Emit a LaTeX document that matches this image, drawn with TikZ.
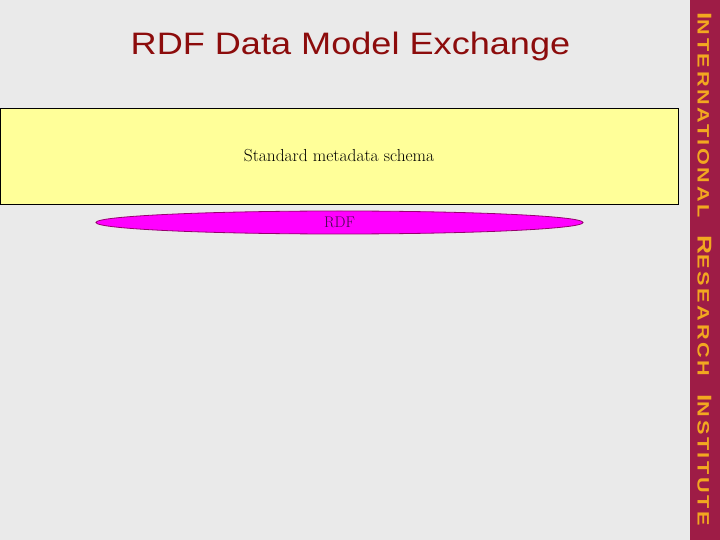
\documentclass[tikz,border=0pt]{standalone}
\usepackage{fontspec}
\usetikzlibrary{shapes.geometric}
\newfontfamily\sansf{Liberation Sans}
\newfontfamily\bandf[LetterSpace=12]{Liberation Sans Bold}
\definecolor{bgc}{RGB}{234,234,234}
\definecolor{titlec}{RGB}{140,12,12}
\definecolor{bandc}{RGB}{158,28,70}
\definecolor{bandtxt}{RGB}{242,168,32}
\definecolor{boxc}{RGB}{255,255,153}
\definecolor{ellc}{RGB}{255,0,255}
\definecolor{elldraw}{RGB}{150,0,110}
\definecolor{rdftxt}{RGB}{70,10,80}
\newcommand{\bigL}[1]{{\fontsize{20bp}{20bp}\selectfont #1}}
\newcommand{\smallL}[1]{{\fontsize{16.5bp}{16bp}\selectfont #1}}
\tikzset{
  schemabox/.style={draw=black, line width=0.9bp, fill=boxc, rectangle, inner sep=0pt,
    minimum width=678bp, minimum height=96bp, font=\fontsize{17.4bp}{19bp}\selectfont},
  rdfell/.style={draw=elldraw, line width=0.8bp, fill=ellc, ellipse, inner sep=0pt,
    minimum width=487bp, minimum height=23bp, text=rdftxt, font=\fontsize{15.5bp}{17bp}\selectfont},
  titlestyle/.style={text=titlec, inner sep=0pt, anchor=base west,
    font=\sansf\fontsize{31bp}{36bp}\selectfont},
  bandtext/.style={text=bandtxt, inner sep=0pt, rotate=-90, anchor=center}
}
\begin{document}
\begin{tikzpicture}[x=1bp,y=-1bp]
\useasboundingbox (0,0) rectangle (720,540);
\fill[bgc] (0,0) rectangle (720,540);
\fill[bandc] (690,0) rectangle (720,540);
\node[titlestyle] (title) at (130.5,54.3) {\scalebox{1.165}[1]{RDF Data Model Exchange}};
\node[schemabox] (schema) at (339,156) {Standard metadata schema};
\node[rdfell] (rdf) at (339.5,222.5) {RDF};
\node[bandtext] (band) at (704.5,269.2) {\resizebox{513bp}{\height}{\bandf
  \bigL{I}\smallL{NTERNATIONAL}\hspace{14bp}\bigL{R}\smallL{ESEARCH}\hspace{14bp}\bigL{I}\smallL{NSTITUTE}}};
\end{tikzpicture}
\end{document}
